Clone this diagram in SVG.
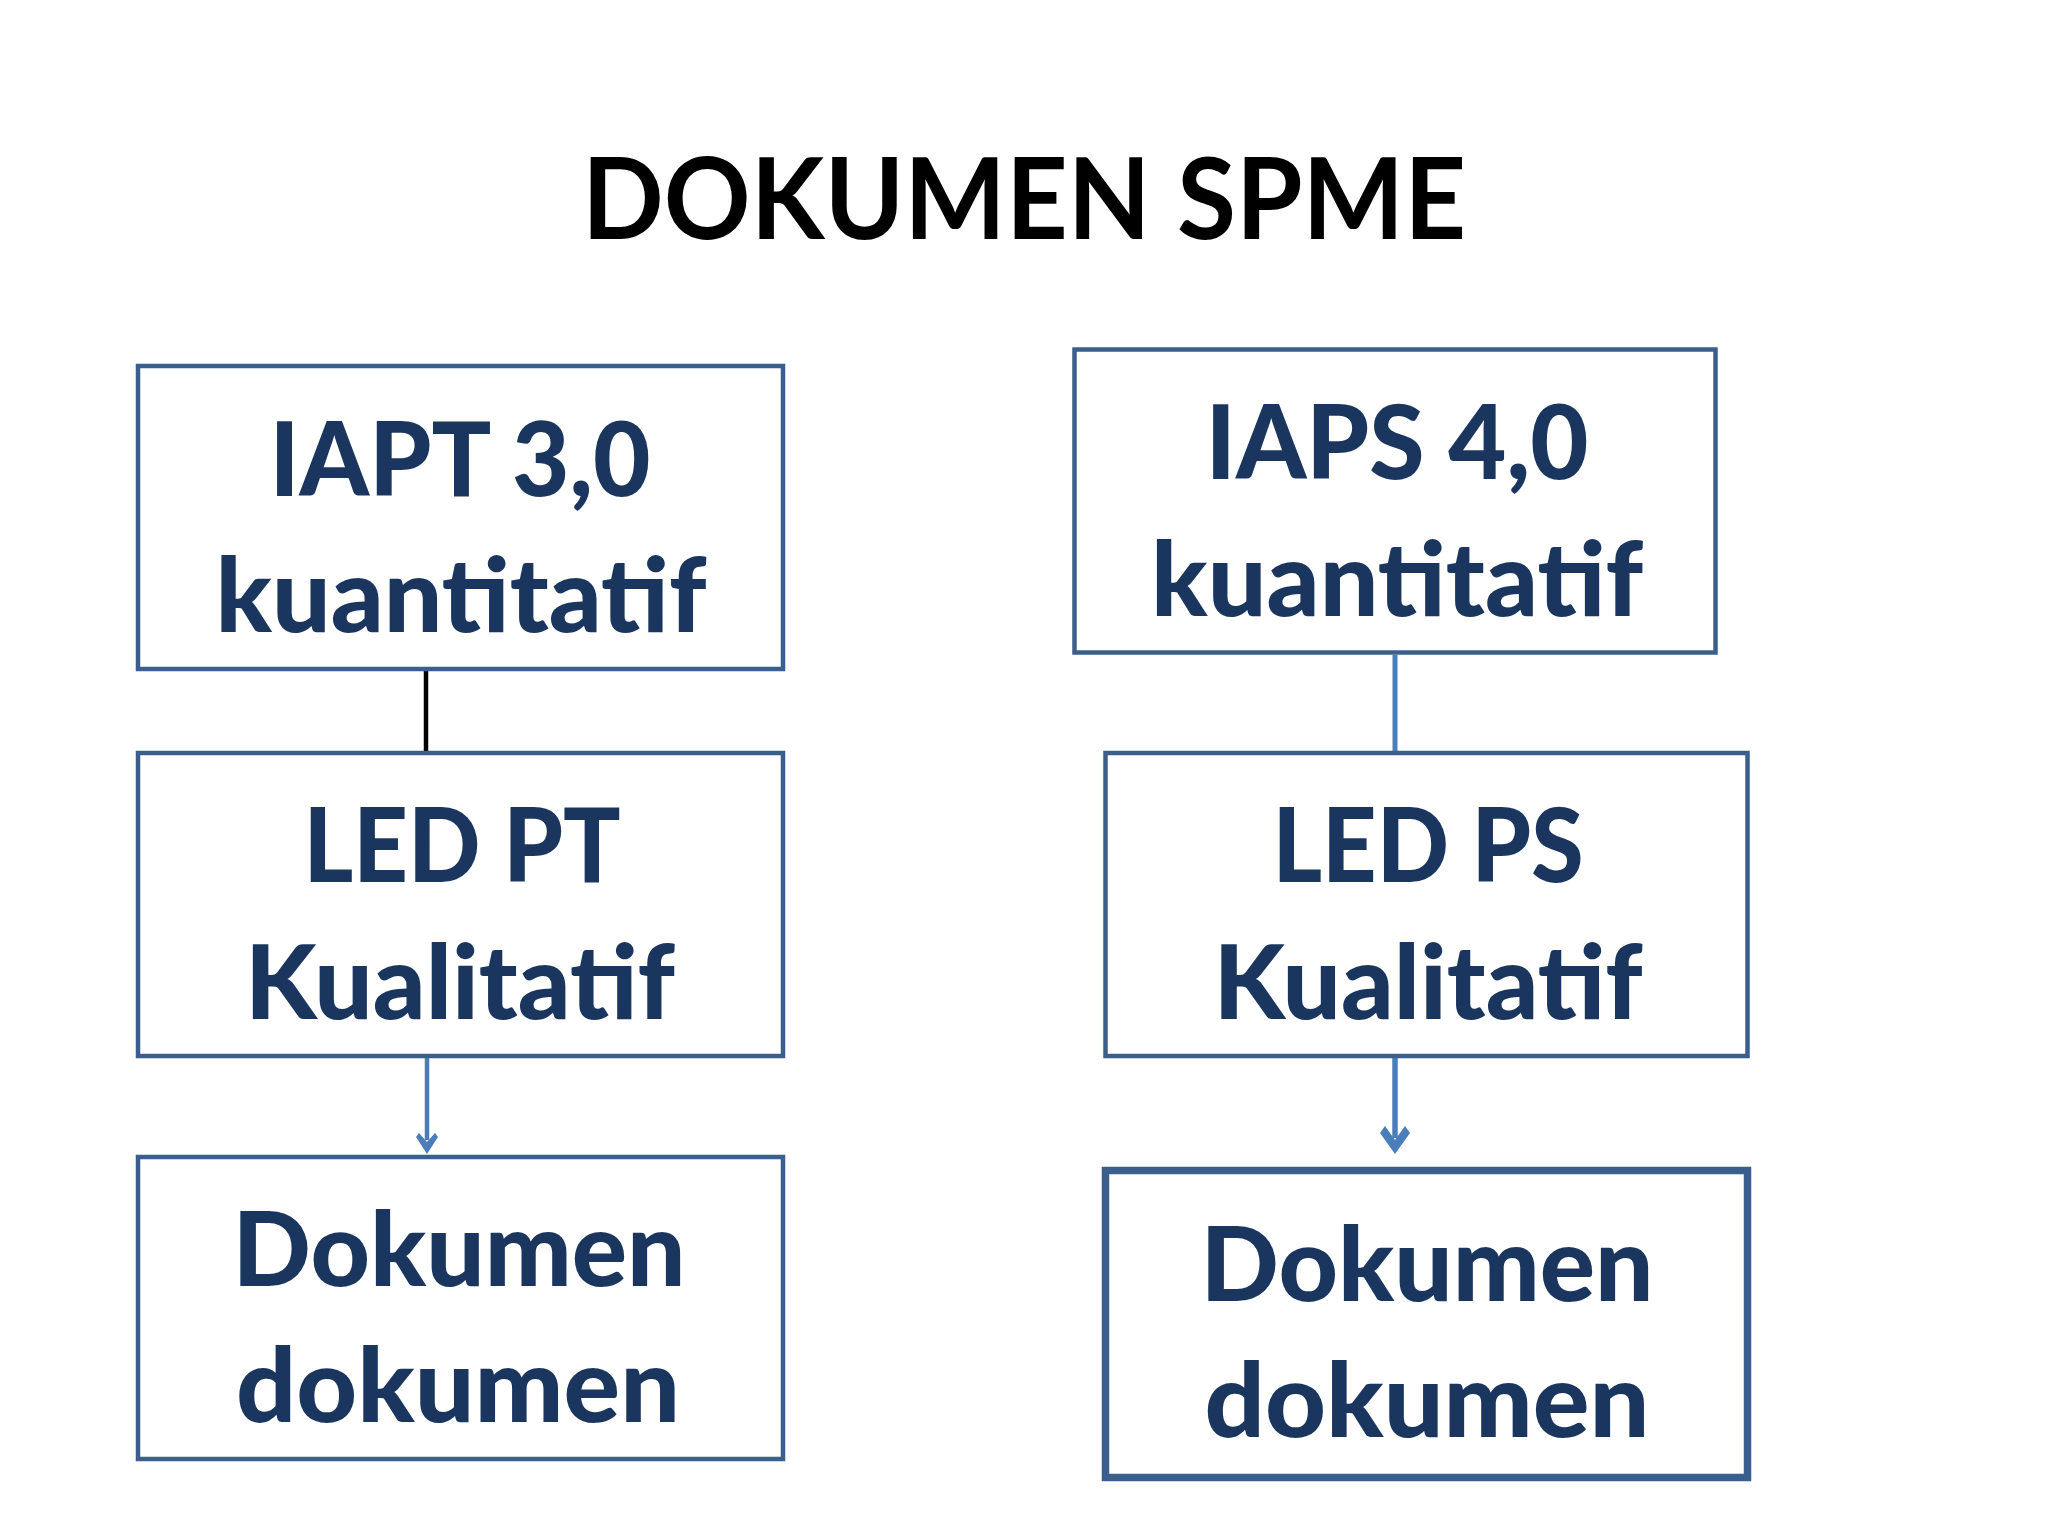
<svg xmlns="http://www.w3.org/2000/svg" width="2048" height="1536" viewBox="0 0 2048 1536">
  <style>
    .box { fill: #ffffff; stroke: #3B5F8D; stroke-width: 4.5; }
    .box-thick { fill: #ffffff; stroke: #3B5F8D; stroke-width: 7.5; }
    .lbl { font-family: Lato, "Noto Sans", "Liberation Sans", sans-serif; font-weight: 900; font-size: 103px; fill: #1B365E; text-anchor: middle; }
    .title { font-family: Lato, "Noto Sans", "Liberation Sans", sans-serif; font-weight: 700; font-size: 113px; fill: #000000; text-anchor: middle; }
    .conn-black { stroke: #000000; stroke-width: 4.5; fill: none; }
    .conn-blue { stroke: #4A7EBB; fill: none; }
    .head { fill: #4A7EBB; }
  </style>
  <rect x="0" y="0" width="2048" height="1536" fill="#ffffff"/>
  <text class="title" x="1024" y="239" textLength="884" lengthAdjust="spacingAndGlyphs">DOKUMEN SPME</text>

  <g id="connectors">
    <line class="conn-black" x1="426" y1="671" x2="426" y2="752"/>
    <line class="conn-blue" x1="1395" y1="655" x2="1395" y2="752" stroke-width="5"/>
    <line class="conn-blue" x1="427" y1="1058" x2="427" y2="1140" stroke-width="4.5"/>
    <polygon class="head" points="416,1137 419,1133 427,1142 435,1133 438,1137 427,1154"/>
    <line class="conn-blue" x1="1395" y1="1058" x2="1395" y2="1138" stroke-width="5.5"/>
    <polygon class="head" points="1380,1133 1385,1126 1395,1140 1405,1126 1410,1133 1395,1154"/>
  </g>

  <g id="node-iapt">
    <rect class="box" x="138" y="366" width="645" height="303"/>
    <text class="lbl" x="460" y="496" textLength="381" lengthAdjust="spacingAndGlyphs">IAPT 3,0</text>
    <text class="lbl" x="461" y="632" textLength="491" lengthAdjust="spacingAndGlyphs">kuantitatif</text>
  </g>
  <g id="node-led-pt">
    <rect class="box" x="138" y="753" width="645" height="303"/>
    <text class="lbl" x="462" y="882" textLength="317" lengthAdjust="spacingAndGlyphs">LED PT</text>
    <text class="lbl" x="460" y="1019" textLength="430" lengthAdjust="spacingAndGlyphs">Kualitatif</text>
  </g>
  <g id="node-dok-pt">
    <rect class="box" x="138" y="1157" width="645" height="302"/>
    <text class="lbl" x="459" y="1286" textLength="453" lengthAdjust="spacingAndGlyphs">Dokumen</text>
    <text class="lbl" x="458" y="1422" textLength="444" lengthAdjust="spacingAndGlyphs">dokumen</text>
  </g>

  <g id="node-iaps">
    <rect class="box" x="1074.5" y="349.5" width="641" height="303"/>
    <text class="lbl" x="1397" y="479" textLength="383" lengthAdjust="spacingAndGlyphs">IAPS 4,0</text>
    <text class="lbl" x="1397" y="616" textLength="492" lengthAdjust="spacingAndGlyphs">kuantitatif</text>
  </g>
  <g id="node-led-ps">
    <rect class="box" x="1105.5" y="753" width="642" height="303"/>
    <text class="lbl" x="1428" y="882" textLength="311" lengthAdjust="spacingAndGlyphs">LED PS</text>
    <text class="lbl" x="1428" y="1019" textLength="429" lengthAdjust="spacingAndGlyphs">Kualitatif</text>
  </g>
  <g id="node-dok-ps">
    <rect class="box-thick" x="1105.5" y="1170.5" width="642" height="307"/>
    <text class="lbl" x="1427" y="1301" textLength="453" lengthAdjust="spacingAndGlyphs">Dokumen</text>
    <text class="lbl" x="1427" y="1437" textLength="445" lengthAdjust="spacingAndGlyphs">dokumen</text>
  </g>
</svg>
